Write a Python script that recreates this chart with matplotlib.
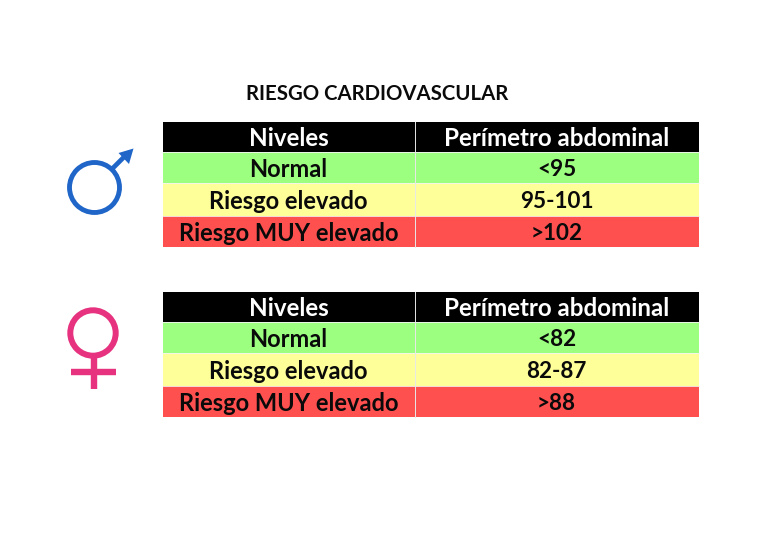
import matplotlib
matplotlib.use("Agg")
import matplotlib.pyplot as plt
from matplotlib.patches import Rectangle, Circle, Polygon

plt.rcParams['font.family'] = ['Lato', 'DejaVu Sans']

title = "RIESGO CARDIOVASCULAR"
headers = ["Niveles", "Perímetro abdominal"]
levels = ["Normal", "Riesgo elevado", "Riesgo MUY elevado"]
male_values = ["<95", "95-101", ">102"]
female_values = ["<82", "82-87", ">88"]
row_colors = ["#9CFF80", "#FFFF99", "#FF5050"]

W, H = 768, 543
fig = plt.figure(figsize=(W / 100, H / 100), dpi=100)
ax = fig.add_axes([0, 0, 1, 1])
ax.set_xlim(0, W)
ax.set_ylim(H, 0)
ax.axis("off")

X0, X1, X2 = 162.5, 414.5, 698.5
FS_HEAD, FS_LEVEL, FS_VALUE = 17.4, 17.0, 16.2


def draw_table(edges, values):
    rows = [("#000000", "white", headers[0], headers[1], FS_HEAD, FS_HEAD)]
    for c, l, v in zip(row_colors, levels, values):
        rows.append((c, "#0a0a0a", l, v, FS_LEVEL, FS_VALUE))
    for i, (c, tc, a, b, fa, fb) in enumerate(rows):
        y0, y1 = edges[i], edges[i + 1]
        ax.add_patch(Rectangle((X0, y0), X2 - X0, y1 - y0, fc=c, ec="none"))
        ym = (y0 + y1) / 2
        ax.text((X0 + X1) / 2, ym, a, color=tc, fontsize=fa, fontweight="bold",
                ha="center", va="center_baseline")
        ax.text((X1 + X2) / 2, ym, b, color=tc, fontsize=fb, fontweight="bold",
                ha="center", va="center_baseline")
        if i:
            ax.plot([X0, X2], [y0, y0], color="#f4f4f4", lw=0.6)
    ax.plot([X1, X1], [edges[0], edges[-1]], color="#e8e8e8", lw=0.7)


draw_table([121.5, 152, 183, 216, 247], male_values)
draw_table([291.5, 322, 353, 386, 417], female_values)

ax.text(377, 92.5, title, color="#0a0a0a", fontsize=14.7, fontweight="bold",
        ha="center", va="center_baseline")

# male symbol
BLUE = "#1F66C8"
ax.add_patch(Circle((94.5, 187.5), 25, fc="none", ec=BLUE, lw=3.5))
ax.plot([112, 124], [169, 157], color=BLUE, lw=3.4, solid_capstyle="butt")
ax.add_patch(Polygon([(133.5, 148.5), (118.5, 153), (129, 164)], fc=BLUE, ec="none"))

# female symbol
PINK = "#E6327F"
ax.add_patch(Circle((93, 333), 22.7, fc="none", ec=PINK, lw=4.3))
ax.plot([93.5, 93.5], [357, 389], color=PINK, lw=4.6, solid_capstyle="butt")
ax.plot([71, 116], [371.5, 371.5], color=PINK, lw=4.6, solid_capstyle="butt")

fig.savefig("out.png", dpi=100, facecolor="white")
